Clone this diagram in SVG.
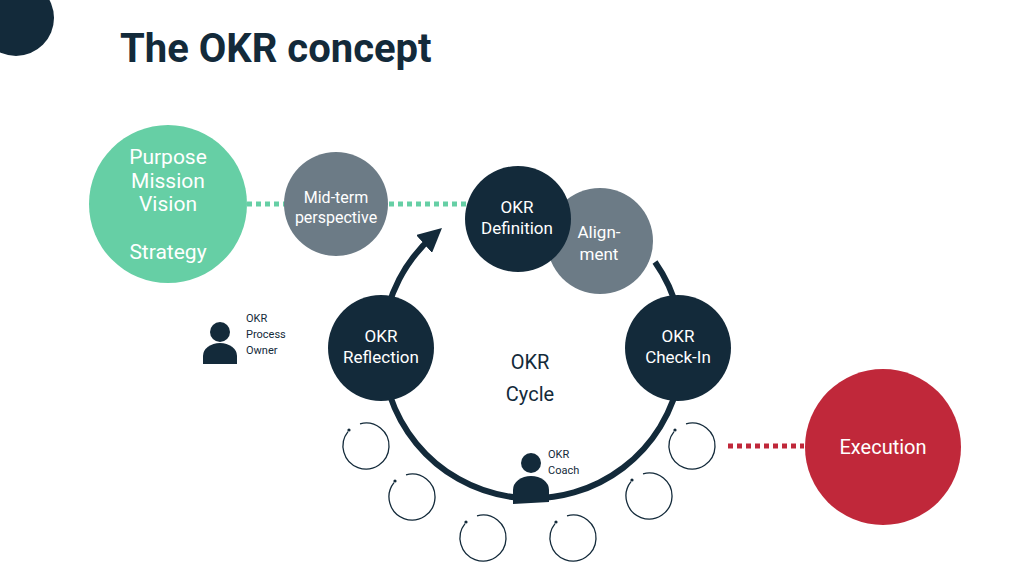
<svg xmlns="http://www.w3.org/2000/svg" width="1024" height="568" viewBox="0 0 1024 568">
<defs>
<style>
text{font-family:Roboto,"Liberation Sans",sans-serif;}
.w{fill:#fff;font-size:19px;text-anchor:middle}
.d{fill:#132a3a}
.g{fill:#6c7b86}
.sm{fill:#132a3a;font-size:11px}
.loop{fill:none;stroke:#132a3a;stroke-width:1.3}
</style>
<marker id="ah" viewBox="0 0 10 10" refX="5" refY="5" markerWidth="4" markerHeight="4" orient="auto"><path d="M0,0L10,5L0,10z" fill="#132a3a"/></marker>
</defs>
<rect width="1024" height="568" fill="#fff"/>
<circle cx="16" cy="18" r="38" class="d"/>
<text x="120" y="62" style="font-size:40px;font-weight:bold;fill:#132a3a">The OKR concept</text>
<g id="connectors">
<line x1="247" y1="204" x2="286" y2="204" stroke="#66cfa5" stroke-width="5" stroke-dasharray="5,4"/>
<line x1="389" y1="204" x2="466" y2="204" stroke="#66cfa5" stroke-width="5" stroke-dasharray="5,4"/>
<line x1="728" y1="446" x2="804" y2="446" stroke="#c0283a" stroke-width="5" stroke-dasharray="5,4"/>
<path d="M655,262 A150,150 0 1 1 433,236" fill="none" stroke="#132a3a" stroke-width="6" marker-end="url(#ah)"/>
</g>
<g id="purpose"><circle cx="168" cy="204" r="79" fill="#66cfa5"/>
<text class="w" style="font-size:21px"><tspan x="168" y="164">Purpose</tspan><tspan x="168" y="188">Mission</tspan><tspan x="168" y="211">Vision</tspan><tspan x="168" y="259">Strategy</tspan></text></g>
<g id="midterm"><circle cx="336" cy="204" r="52" class="g"/>
<text class="w" style="font-size:16px"><tspan x="336" y="203">Mid-term</tspan><tspan x="336" y="223">perspective</tspan></text></g>
<g id="alignment"><circle cx="600" cy="241" r="53" class="g"/>
<text class="w" style="font-size:17px"><tspan x="599" y="238">Align-</tspan><tspan x="599" y="260">ment</tspan></text></g>
<g id="definition"><circle cx="518" cy="219" r="53" class="d"/>
<text class="w" style="font-size:17px"><tspan x="517" y="213">OKR</tspan><tspan x="517" y="234">Definition</tspan></text></g>
<g id="reflection"><circle cx="381" cy="348" r="53" class="d"/>
<text class="w" style="font-size:17px"><tspan x="381" y="342">OKR</tspan><tspan x="381" y="363">Reflection</tspan></text></g>
<g id="checkin"><circle cx="678" cy="348" r="53" class="d"/>
<text class="w" style="font-size:17px"><tspan x="678" y="342">OKR</tspan><tspan x="678" y="363">Check-In</tspan></text></g>
<g id="cycle"><text style="font-size:20px;fill:#132a3a;text-anchor:middle"><tspan x="530" y="369">OKR</tspan><tspan x="530" y="401">Cycle</tspan></text></g>
<g id="execution"><circle cx="883" cy="447" r="78" fill="#c0283a"/>
<text class="w" x="883" y="454" style="font-size:20px">Execution</text></g>
<g id="processowner"><circle cx="220" cy="332" r="10" class="d"/><path d="M203,364 V356 A17,13 0 0 1 237,356 V364 Z" class="d"/>
<text class="sm"><tspan x="246" y="322">OKR</tspan><tspan x="246" y="338">Process</tspan><tspan x="246" y="354">Owner</tspan></text></g>
<g id="coach"><circle cx="531" cy="463" r="10" class="d"/><path d="M513,504 V490 A18,14 0 0 1 549,490 V502 Z" class="d"/>
<text class="sm"><tspan x="548" y="458">OKR</tspan><tspan x="548" y="474">Coach</tspan></text></g>
<g id="loops">
<g transform="translate(366,446)"><path class="loop" d="M-6,-22.2 A23,23 0 1 1 -18,-14.3"/><circle cx="-17" cy="-16" r="1.6" class="d"/></g>
<g transform="translate(412,497)"><path class="loop" d="M-6,-22.2 A23,23 0 1 1 -18,-14.3"/><circle cx="-17" cy="-16" r="1.6" class="d"/></g>
<g transform="translate(483,538)"><path class="loop" d="M-6,-22.2 A23,23 0 1 1 -18,-14.3"/><circle cx="-17" cy="-16" r="1.6" class="d"/></g>
<g transform="translate(573,538)"><path class="loop" d="M-6,-22.2 A23,23 0 1 1 -18,-14.3"/><circle cx="-17" cy="-16" r="1.6" class="d"/></g>
<g transform="translate(649,496)"><path class="loop" d="M-6,-22.2 A23,23 0 1 1 -18,-14.3"/><circle cx="-17" cy="-16" r="1.6" class="d"/></g>
<g transform="translate(692,446)"><path class="loop" d="M-6,-22.2 A23,23 0 1 1 -18,-14.3"/><circle cx="-17" cy="-16" r="1.6" class="d"/></g>
</g>
</svg>
